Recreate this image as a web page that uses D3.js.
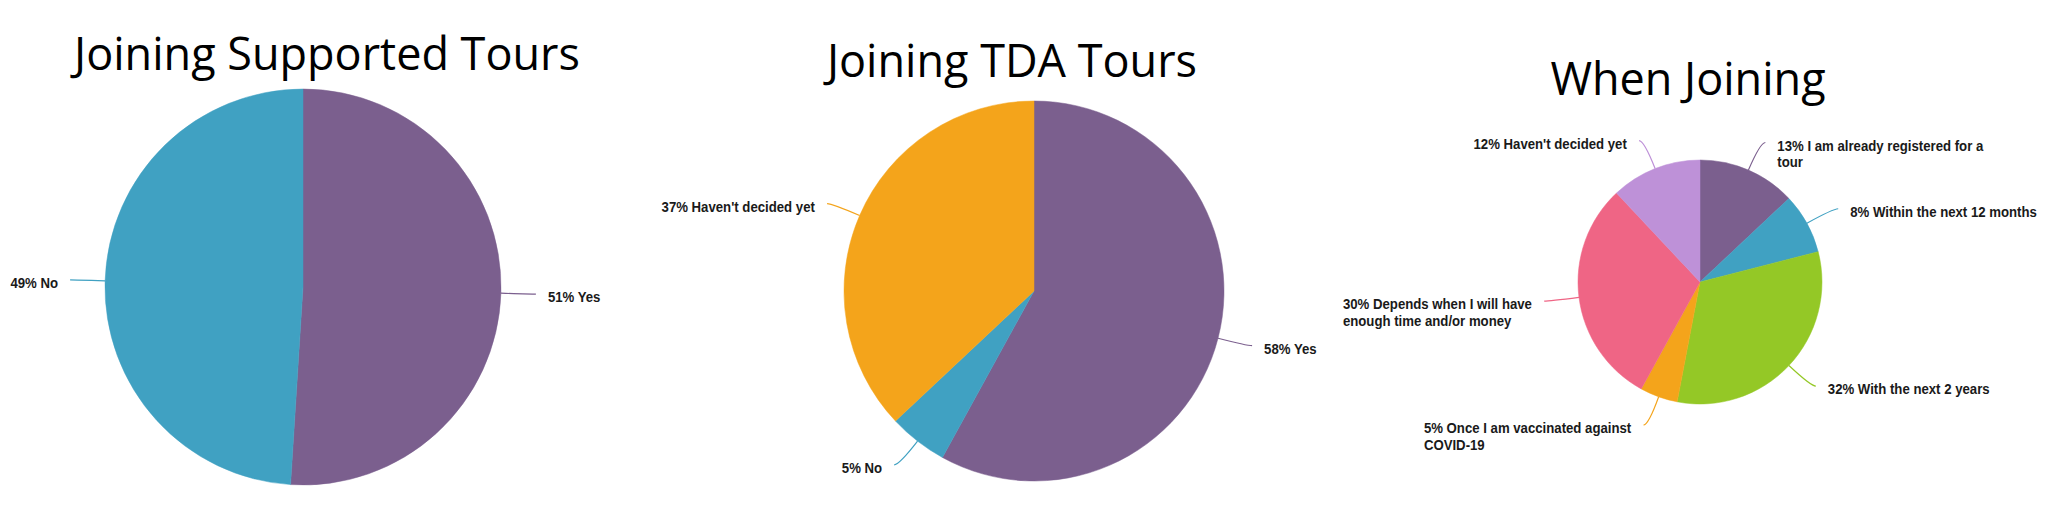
<!DOCTYPE html>
<html>
<head>
<meta charset="utf-8">
<script src="https://cdn.jsdelivr.net/npm/d3@7"></script>
<style>
  body { margin: 0; background: #fff; }
</style>
</head>
<body>
<div id="charts"></div>
<script>
// Data
const supportedLabels = ["Yes", "No"];
const supportedValues = [51, 49];
const supportedColors = ["#7B5F8E", "#40A1C2"];

const tdaLabels = ["Yes", "No", "Haven't decided yet"];
const tdaValues = [58, 5, 37];
const tdaColors = ["#7B5F8E", "#40A1C2", "#F4A41B"];

const whenLabels = [
  "I am already registered for a tour",
  "Within the next 12 months",
  "With the next 2 years",
  "Once I am vaccinated against COVID-19",
  "Depends when I will have enough time and/or money",
  "Haven't decided yet"
];
const whenValues = [13, 8, 32, 5, 30, 12];
const whenColors = ["#7B5F8E", "#40A1C2", "#94C826", "#F4A41B", "#EF6585", "#BE91D8"];

const width = 2051, height = 516;

const svg = d3.select("#charts")
  .append("svg")
  .attr("width", width)
  .attr("height", height);

// layout of the three pies
const charts = [
  { title: "Joining Supported Tours", labels: supportedLabels, values: supportedValues, colors: supportedColors,
    cx: 303, cy: 287, r: 198, tx: 327, ty: 70 },
  { title: "Joining TDA Tours", labels: tdaLabels, values: tdaValues, colors: tdaColors,
    cx: 1034, cy: 291, r: 190, tx: 1012, ty: 77 },
  { title: "When Joining", labels: whenLabels, values: whenValues, colors: whenColors,
    cx: 1700, cy: 282, r: 122, tx: 1688, ty: 95 }
];

const labelFont = "'Liberation Sans', Arial, sans-serif";
const labelSize = 15;
const squeeze = 0.88;   // labels in the original are drawn a bit condensed
const wrapWidth = 222;

// split a label into lines no wider than wrapWidth (after squeeze)
function wrapLines(text) {
  const probe = svg.append("text")
    .style("font-family", labelFont)
    .style("font-size", labelSize + "px")
    .style("font-weight", "bold");
  const len = s => { probe.text(s); return probe.node().getComputedTextLength() * squeeze; };
  const words = text.split(" ");
  const lines = [];
  let line = [];
  words.forEach(w => {
    line.push(w);
    if (len(line.join(" ")) > wrapWidth && line.length > 1) {
      line.pop();
      lines.push(line.join(" "));
      line = [w];
    }
  });
  lines.push(line.join(" "));
  const maxWidth = d3.max(lines, len);
  probe.remove();
  return { lines, maxWidth };
}

function drawPie(c) {
  // title
  svg.append("text")
    .attr("x", c.tx)
    .attr("y", c.ty)
    .attr("text-anchor", "middle")
    .style("font-family", "'Open Sans', 'Noto Sans', sans-serif")
    .style("font-size", "45px")
    .style("fill", "#000")
    .text(c.title);

  const g = svg.append("g")
    .attr("transform", `translate(${c.cx}, ${c.cy})`);

  const pie = d3.pie().sort(null).value(d => d.value);
  const arcs = pie(c.labels.map((l, i) => ({ label: l, value: c.values[i], color: c.colors[i] })));
  const arc = d3.arc().innerRadius(0).outerRadius(c.r);

  g.selectAll("path.slice")
    .data(arcs)
    .join("path")
    .attr("class", "slice")
    .attr("d", arc)
    .attr("fill", d => d.data.color)
    .attr("stroke", d => d.data.color)
    .attr("stroke-width", 0.5);

  arcs.forEach(d => {
    const a = (d.startAngle + d.endAngle) / 2;
    const sx = Math.sin(a), sy = -Math.cos(a);
    const side = sx >= 0 ? 1 : -1;
    const p0 = [sx * c.r, sy * c.r];
    const p1 = [sx * (c.r + 30), sy * (c.r + 30)];
    const p2 = [p1[0] + side * 5, p1[1]];

    // curved leader line
    g.append("path")
      .attr("d", `M${p0[0]},${p0[1]} Q${p1[0]},${p1[1]} ${p2[0]},${p2[1]}`)
      .attr("fill", "none")
      .attr("stroke", d.data.color)
      .attr("stroke-width", 1.2);

    const wrapped = wrapLines(`${d.data.value}% ${d.data.label}`);
    const x0 = side > 0 ? p2[0] + 12 : p2[0] - 12 - wrapped.maxWidth;

    const t = g.append("text")
      .attr("transform", `translate(${x0}, ${p2[1] + 8}) scale(${squeeze}, 1)`)
      .style("font-family", labelFont)
      .style("font-size", labelSize + "px")
      .style("font-weight", "bold")
      .style("fill", "#1A1A1A");

    wrapped.lines.forEach((line, i) => {
      t.append("tspan")
        .attr("x", 0)
        .attr("dy", i === 0 ? 0 : 17)
        .text(line);
    });
  });
}

charts.forEach(drawPie);
</script>
</body>
</html>
